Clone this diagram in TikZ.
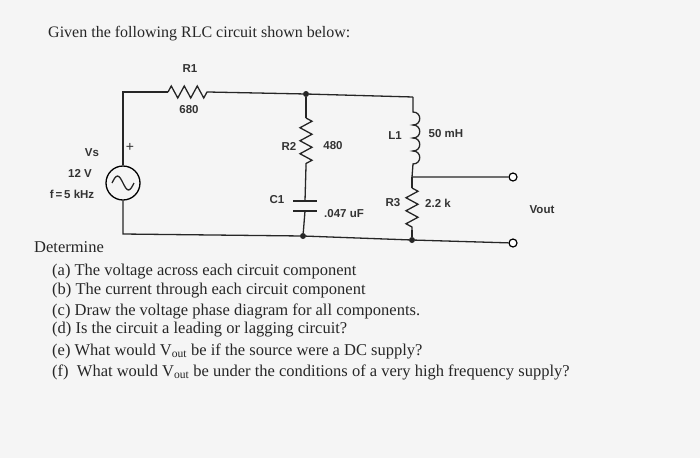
\documentclass[tikz,border=0pt]{standalone}
\usepackage{fontspec}
\setmainfont{Liberation Serif}
\newfontfamily\lab{Liberation Sans}
\usetikzlibrary{decorations.pathmorphing,calc}
\begin{document}
\begin{tikzpicture}[x=1pt,y=-1pt,
  wire/.style={line width=1.3pt,black!85},
  zig/.style={wire,decorate,decoration={zigzag,segment length=13pt,amplitude=6pt}},
  lbl/.style={font=\lab\bfseries\fontsize{11.5}{13}\selectfont,text=black!80},
  txt/.style={font=\fontsize{16.5}{18}\selectfont,anchor=west,text=black!85,inner sep=0pt},
  term/.style={circle,draw,line width=1.2pt,inner sep=0pt,minimum size=8pt,fill=white},
  dot/.style={circle,fill=black!85,inner sep=0pt,minimum size=6pt}]
\fill[gray!8] (0,0) rectangle (700,458);
\useasboundingbox (0,0) rectangle (700,458);
\node[txt,font=\fontsize{16}{18}\selectfont] (title) at (48,34) {Given the following RLC circuit shown below:};
% coordinates
\coordinate (tl) at (123,92);
\coordinate (bl) at (123,234);
\coordinate (r1a) at (168,92);
\coordinate (r1b) at (208,92);
\node[dot] (n2) at (306,94) {};
\coordinate (tr) at (413,97);
\node[dot] (b2) at (303,236) {};
\node[dot] (b3) at (412,240) {};
\node[circle,draw,line width=1.3pt,minimum size=34pt,inner sep=0pt] (vs) at (123,183) {};
\node[term] (o1) at (513,177) {};
\node[term] (o2) at (513,243) {};
\coordinate (tap) at (412,177);
% source wiring
\draw[wire] (vs.north) -- (tl) -- (r1a);
\draw[zig] (r1a) -- (r1b);
\draw[wire] (r1b) -- (n2) -- (tr);
\draw[wire] (vs.south) -- (bl) -- (b2) -- (b3) -- (o2);
\draw[wire] ($(vs.center)+(-11,0)$) sin ++(5.5,-7) cos ++(5.5,7) sin ++(5.5,7) cos ++(5.5,-7);
% R2 C1 branch
\draw[wire] (n2) -- (306,118);
\draw[zig] (306,118) -- (306,166);
\draw[wire] (306,166) -- (305,201);
\draw[wire] (293,201) -- (317,201) (293,211) -- (317,211);
\draw[wire] (305,211) -- (b2);
% L1 R3 branch
\draw[wire] (tr) -- (413,112)
  .. controls (422,112) and (422,125) .. (413,125)
  .. controls (422,125) and (422,138) .. (413,138)
  .. controls (422,138) and (422,151) .. (413,151)
  .. controls (422,151) and (422,164) .. (413,164)
  -- (tap) -- (o1);
\draw[wire] (tap) -- (412,188);
\draw[zig] (412,188) -- (412,230);
\draw[wire] (412,230) -- (b3);
% labels
\node[lbl] (lr1) at (190,69) {R1};
\node[lbl] (lr1v) at (189,110) {680};
\node[lbl] (lvs) at (92,153) {Vs};
\node[lbl] (lvs2) at (80,173) {12 V};
\node[lbl] (lvs3) at (72,194) {f\,=\,5 kHz};
\node[lbl,font=\lab\fontsize{14}{14}\selectfont] (plus) at (130,147) {+};
\node[lbl] (lr2) at (289,146) {R2};
\node[lbl] (lr2v) at (333,146) {480};
\node[lbl] (lc1) at (277,200) {C1};
\node[lbl] (lc1v) at (344,214) {.047 uF};
\node[lbl] (ll1) at (395,136) {L1};
\node[lbl] (ll1v) at (446,134) {50 mH};
\node[lbl] (lr3) at (393,203) {R3};
\node[lbl] (lr3v) at (438,203) {2.2 k};
\node[lbl] (lvout) at (542,210) {Vout};
% questions
\node[txt] (q0) at (34,247) {Determine};
\node[txt] (qa) at (52,272) {(a) The voltage across each circuit component};
\node[txt] (qb) at (52,291) {(b) The current through each circuit component};
\node[txt] (qc) at (52,311) {(c) Draw the voltage phase diagram for all components.};
\node[txt] (qd) at (52,330) {(d) Is the circuit a leading or lagging circuit?};
\node[txt] (qe) at (52,351) {(e) What would V\textsubscript{out} be if the source were a DC supply?};
\node[txt] (qf) at (52,372) {(f)\ \ What would V\textsubscript{out} be under the conditions of a very high frequency supply?};
\end{tikzpicture}
\end{document}
